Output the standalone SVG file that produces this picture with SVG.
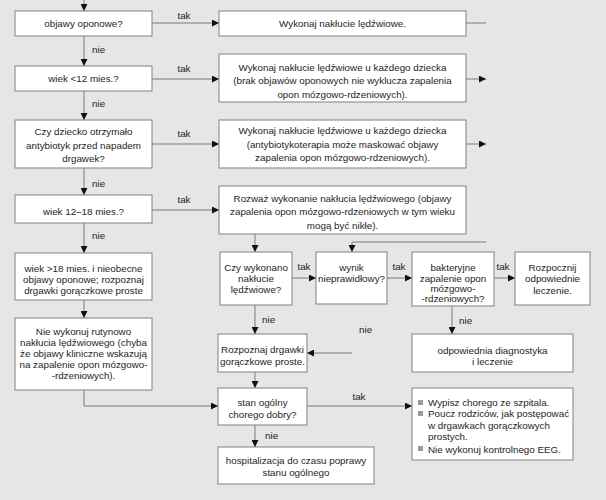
<svg xmlns="http://www.w3.org/2000/svg" width="606" height="500" viewBox="0 0 606 500">
<defs>
<marker id="ah" viewBox="0 0 10 10" refX="10" refY="5" markerWidth="7" markerHeight="7" markerUnits="userSpaceOnUse" orient="auto">
<path d="M0,0 L10,5 L0,10 z" fill="#111"/>
</marker>
<style>
.bx{fill:#fff;stroke:#808080;stroke-width:1}
.t{font-family:"Liberation Sans",Arial,sans-serif;font-size:9.8px;fill:#1e1e1e;text-anchor:middle}
.tl{font-family:"Liberation Sans",Arial,sans-serif;font-size:9.8px;fill:#1e1e1e;text-anchor:start}
.ln{fill:none;stroke:#7a7a7a;stroke-width:1}
.ar{marker-end:url(#ah)}
.bu{fill:#9a9a9a}
</style>
</defs>
<rect x="0" y="0" width="606" height="500" fill="#e6e6e6"/>

<g id="connectors">
<path class="ln ar" d="M84,0 V11"/>
<path class="ln ar" d="M152,23 H219"/>
<path class="ln" d="M466,23 H486"/>
<path class="ln ar" d="M84,36 V66"/>
<path class="ln ar" d="M152,79 H219"/>
<path class="ln ar" d="M466,79 H486"/>
<path class="ln ar" d="M84,91 V120"/>
<path class="ln ar" d="M152,144 H219"/>
<path class="ln ar" d="M466,144 H486"/>
<path class="ln ar" d="M84,168 V195"/>
<path class="ln ar" d="M152,210 H219"/>
<path class="ln ar" d="M84,223 V253"/>
<path class="ln ar" d="M84,300 V318"/>
<path class="ln ar" d="M84,390 V406 H218"/>
<path class="ln ar" d="M255,234 V252"/>
<path class="ln ar" d="M486,242 H352 V252"/>
<path class="ln ar" d="M292,278 H316"/>
<path class="ln ar" d="M387,278 H412"/>
<path class="ln ar" d="M494,278 H515"/>
<path class="ln ar" d="M452,306 V334"/>
<path class="ln ar" d="M255,305 V334"/>
<path class="ln ar" d="M352,353 H307"/>
<path class="ln ar" d="M255,372 V388"/>
<path class="ln ar" d="M307,406 H412"/>
<path class="ln ar" d="M255,425 V447"/>
<text class="t" x="184" y="19">tak</text>
<text class="t" x="184" y="72">tak</text>
<text class="t" x="184" y="137">tak</text>
<text class="t" x="184" y="203">tak</text>
<text class="tl" x="92" y="53">nie</text>
<text class="tl" x="92" y="107">nie</text>
<text class="tl" x="92" y="187">nie</text>
<text class="tl" x="92" y="239">nie</text>
<text class="t" x="304" y="270">tak</text>
<text class="t" x="399" y="270">tak</text>
<text class="t" x="503" y="270">tak</text>
<text class="tl" x="262" y="323">nie</text>
<text class="tl" x="359" y="333">nie</text>
<text class="tl" x="459" y="324">nie</text>
<text class="t" x="359" y="400">tak</text>
<text class="tl" x="265" y="439">nie</text>
</g>

<g id="n1">
<rect class="bx" x="15" y="11" width="137" height="25"/>
<text class="t" x="83.5" y="27">objawy oponowe?</text>
</g>
<g id="n1tak">
<rect class="bx" x="219" y="11" width="247" height="25"/>
<text class="t" x="342.5" y="27">Wykonaj nakłucie lędźwiowe.</text>
</g>
<g id="n2">
<rect class="bx" x="15" y="66" width="137" height="25"/>
<text class="t" x="83.5" y="82">wiek &lt;12 mies.?</text>
</g>
<g id="n2tak">
<rect class="bx" x="219" y="54" width="247" height="48"/>
<text class="t" x="342.5" y="70.5">Wykonaj nakłucie lędźwiowe u każdego dziecka</text>
<text class="t" x="342.5" y="84">(brak objawów oponowych nie wyklucza zapalenia</text>
<text class="t" x="342.5" y="97.5">opon mózgowo-rdzeniowych).</text>
</g>
<g id="n3">
<rect class="bx" x="15" y="120" width="137" height="48"/>
<text class="t" x="83.5" y="135">Czy dziecko otrzymało</text>
<text class="t" x="83.5" y="148.5">antybiotyk przed napadem</text>
<text class="t" x="83.5" y="162">drgawek?</text>
</g>
<g id="n3tak">
<rect class="bx" x="219" y="120" width="247" height="48"/>
<text class="t" x="342.5" y="134">Wykonaj nakłucie lędźwiowe u każdego dziecka</text>
<text class="t" x="342.5" y="147.5">(antybiotykoterapia może maskować objawy</text>
<text class="t" x="342.5" y="161">zapalenia opon mózgowo-rdzeniowych).</text>
</g>
<g id="n4">
<rect class="bx" x="15" y="195" width="137" height="28"/>
<text class="t" x="83.5" y="215">wiek 12–18 mies.?</text>
</g>
<g id="n4tak">
<rect class="bx" x="219" y="186" width="247" height="48"/>
<text class="t" x="342.5" y="201.5">Rozważ wykonanie nakłucia lędźwiowego (objawy</text>
<text class="t" x="342.5" y="215">zapalenia opon mózgowo-rdzeniowych w tym wieku</text>
<text class="t" x="342.5" y="228.5">mogą być nikłe).</text>
</g>
<g id="n5">
<rect class="bx" x="15" y="253" width="137" height="47"/>
<text class="t" x="83.5" y="271.5">wiek &gt;18 mies. i nieobecne</text>
<text class="t" x="83.5" y="282.5">objawy oponowe; rozpoznaj</text>
<text class="t" x="83.5" y="293.5">drgawki gorączkowe proste</text>
</g>
<g id="n6">
<rect class="bx" x="15" y="318" width="137" height="72"/>
<text class="t" x="83.5" y="335">Nie wykonuj rutynowo</text>
<text class="t" x="83.5" y="346">nakłucia lędźwiowego (chyba</text>
<text class="t" x="83.5" y="357">że objawy kliniczne wskazują</text>
<text class="t" x="83.5" y="368">na zapalenie opon mózgowo-</text>
<text class="t" x="83.5" y="379">-rdzeniowych).</text>
</g>
<g id="n7">
<rect class="bx" x="220" y="252" width="72" height="53"/>
<text class="t" x="256" y="271">Czy wykonano</text>
<text class="t" x="256" y="282">nakłucie</text>
<text class="t" x="256" y="293">lędźwiowe?</text>
</g>
<g id="n8">
<rect class="bx" x="316" y="252" width="71" height="52"/>
<text class="t" x="351.5" y="271">wynik</text>
<text class="t" x="351.5" y="282">nieprawidłowy?</text>
</g>
<g id="n9">
<rect class="bx" x="412" y="252" width="82" height="54"/>
<text class="t" x="453" y="271">bakteryjne</text>
<text class="t" x="453" y="282">zapalenie opon</text>
<text class="t" x="453" y="292">mózgowo-</text>
<text class="t" x="453" y="302">-rdzeniowych?</text>
</g>
<g id="n10">
<rect class="bx" x="515" y="252" width="75" height="53"/>
<text class="t" x="552.5" y="271">Rozpocznij</text>
<text class="t" x="552.5" y="282">odpowiednie</text>
<text class="t" x="552.5" y="293.5">leczenie.</text>
</g>
<g id="n11">
<rect class="bx" x="412" y="334" width="161" height="38"/>
<text class="t" x="492.5" y="353.5">odpowiednia diagnostyka</text>
<text class="t" x="492.5" y="364.5">i leczenie</text>
</g>
<g id="n12">
<rect class="bx" x="218" y="334" width="89" height="38"/>
<text class="t" x="262.5" y="352.5">Rozpoznaj drgawki</text>
<text class="t" x="262.5" y="364.5">gorączkowe proste.</text>
</g>
<g id="n13">
<rect class="bx" x="218" y="388" width="89" height="37"/>
<text class="t" x="262.5" y="406">stan ogólny</text>
<text class="t" x="262.5" y="417.5">chorego dobry?</text>
</g>
<g id="n14">
<rect class="bx" x="412" y="388" width="161" height="72"/>
<rect class="bu" x="418" y="400" width="5" height="5"/>
<rect class="bu" x="418" y="411" width="5" height="5"/>
<rect class="bu" x="418" y="446" width="5" height="5"/>
<text class="tl" x="428" y="406">Wypisz chorego ze szpitala.</text>
<text class="tl" x="428" y="417">Poucz rodziców, jak postępować</text>
<text class="tl" x="428" y="428.5">w drgawkach gorączkowych</text>
<text class="tl" x="428" y="440">prostych.</text>
<text class="tl" x="428" y="452.5">Nie wykonuj kontrolnego EEG.</text>
</g>
<g id="n15">
<rect class="bx" x="218" y="447" width="156" height="37"/>
<text class="t" x="296" y="464">hospitalizacja do czasu poprawy</text>
<text class="t" x="296" y="476">stanu ogólnego</text>
</g>
</svg>
